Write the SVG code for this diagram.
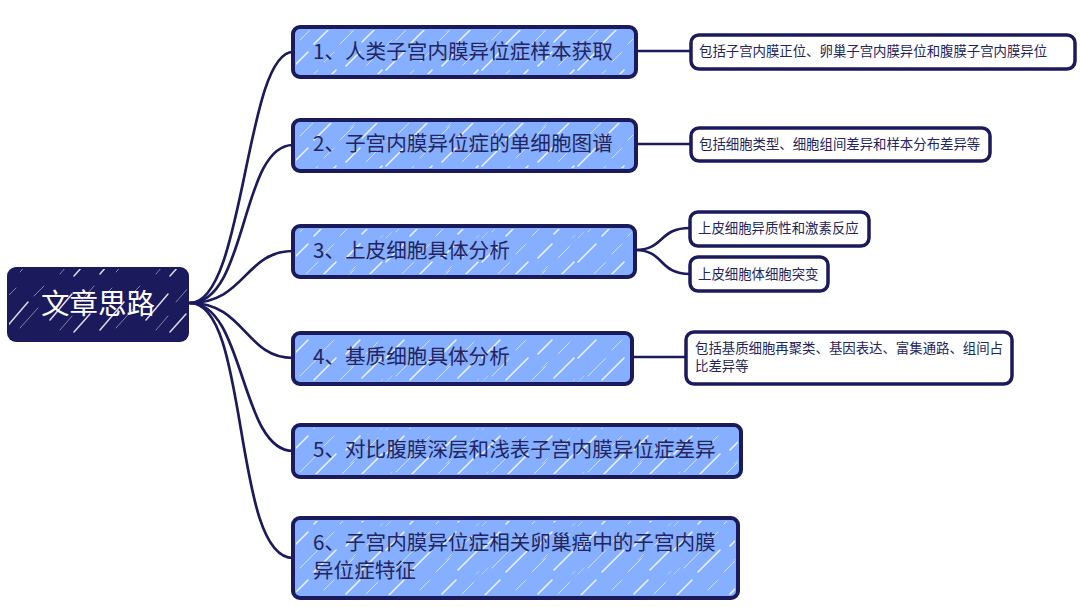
<svg xmlns="http://www.w3.org/2000/svg" width="1080" height="607" viewBox="0 0 1080 607">
<style>
.t{font-family:"Noto Sans CJK SC","Noto Sans",sans-serif;fill:#24245e}
.m{font-size:20.6px}
.s{font-size:13.4px}
.r{font-size:28.5px;fill:#fff}
.b{fill:#86b0ff;stroke:#1b1a5c;stroke-width:4}
.d{fill:#fff;stroke:#1b1a5c;stroke-width:3.5}
.c{fill:none;stroke:#1b1a5c;stroke-width:2.7;stroke-linecap:round}
.h{fill:url(#hatch);stroke:none}
.hr{fill:url(#hatchR);stroke:none}
</style>
<defs>
<pattern id="hatch" width="96" height="48" patternUnits="userSpaceOnUse">
<g stroke="#fff" fill="none" stroke-linecap="round">
<path d="M2 22L20 4M26 44L48 22M58 18L72 4M74 42L94 22" stroke-width="1.5" opacity=".85"/>
<path d="M12 40L30 22M36 14L46 4M52 44L66 30M78 18L90 6" stroke-width="1" opacity=".6"/>
<path d="M2 46L8 40M62 32L68 26M92 46L95 43" stroke-width=".8" opacity=".5"/>
</g>
</pattern>
<pattern id="hatchR" width="96" height="56" patternUnits="userSpaceOnUse">
<g stroke="#fff" fill="none" stroke-linecap="round">
<path d="M4 50L28 22M50 40L72 14M74 52L90 34" stroke-width="1.5" opacity=".85"/>
<path d="M20 48L38 28M34 16L44 6M60 50L72 36M80 22L94 6M6 18L16 8" stroke-width=".9" opacity=".5"/>
</g>
</pattern>
</defs>
<rect width="1080" height="607" fill="#fff"/>
<g id="connectors">
<path class="c" d="M190 303C245 303 245 52 293 52"/>
<path class="c" d="M190 303C248 303 240 145 293 145"/>
<path class="c" d="M190 303C245 303 245 251 293 251"/>
<path class="c" d="M190 303C245 303 245 358 293 358"/>
<path class="c" d="M190 303C245 303 240 451 293 451"/>
<path class="c" d="M190 303C250 303 232 558 293 558"/>
<path class="c" d="M636 51H691"/>
<path class="c" d="M636 144H691"/>
<path class="c" d="M635 250C665 250 658 228 690 228"/>
<path class="c" d="M635 250C665 250 658 274 690 274"/>
<path class="c" d="M632 357H686"/>
</g>
<g id="root">
<rect x="7" y="267" width="182" height="75" rx="9" fill="#1b1a5c"/>
<rect class="hr" x="9" y="269" width="178" height="71" rx="8"/>
<text class="t r" x="98" y="314" text-anchor="middle">文章思路</text>
</g>
<g id="n1">
<rect class="b" x="293" y="27" width="343" height="50" rx="7"/>
<rect class="h" x="296" y="30" width="337" height="44" rx="5"/>
<text class="t m" x="313" y="59">1、人类子宫内膜异位症样本获取</text>
</g>
<g id="n2">
<rect class="b" x="293" y="120" width="343" height="51" rx="7"/>
<rect class="h" x="296" y="123" width="337" height="45" rx="5"/>
<text class="t m" x="313" y="151">2、子宫内膜异位症的单细胞图谱</text>
</g>
<g id="n3">
<rect class="b" x="293" y="226" width="342" height="51" rx="7"/>
<rect class="h" x="296" y="229" width="336" height="45" rx="5"/>
<text class="t m" x="313" y="258">3、上皮细胞具体分析</text>
</g>
<g id="n4">
<rect class="b" x="293" y="333" width="339" height="51" rx="7"/>
<rect class="h" x="296" y="336" width="333" height="45" rx="5"/>
<text class="t m" x="313" y="364">4、基质细胞具体分析</text>
</g>
<g id="n5">
<rect class="b" x="293" y="425" width="448" height="52" rx="7"/>
<rect class="h" x="296" y="428" width="442" height="46" rx="5"/>
<text class="t m" x="313" y="457">5、对比腹膜深层和浅表子宫内膜异位症差异</text>
</g>
<g id="n6">
<rect class="b" x="293" y="518" width="445" height="80" rx="7"/>
<rect class="h" x="296" y="521" width="439" height="74" rx="5"/>
<text class="t m" y="550"><tspan x="313">6、子宫内膜异位症相关卵巢癌中的子宫内膜</tspan><tspan x="313" dy="28">异位症特征</tspan></text>
</g>
<g id="d1">
<rect class="d" x="691" y="35" width="384" height="34" rx="8"/>
<text class="t s" x="699" y="56">包括子宫内膜正位、卵巢子宫内膜异位和腹膜子宫内膜异位</text>
</g>
<g id="d2">
<rect class="d" x="691" y="128" width="299" height="33" rx="8"/>
<text class="t s" x="699" y="149">包括细胞类型、细胞组间差异和样本分布差异等</text>
</g>
<g id="d3a">
<rect class="d" x="690" y="212" width="179" height="34" rx="8"/>
<text class="t s" x="698" y="233">上皮细胞异质性和激素反应</text>
</g>
<g id="d3b">
<rect class="d" x="690" y="257" width="138" height="34" rx="8"/>
<text class="t s" x="698" y="279">上皮细胞体细胞突变</text>
</g>
<g id="d4">
<rect class="d" x="686" y="332" width="326" height="52" rx="8"/>
<text class="t s" y="353"><tspan x="695">包括基质细胞再聚类、基因表达、富集通路、组间占</tspan><tspan x="695" dy="18">比差异等</tspan></text>
</g>
</svg>
